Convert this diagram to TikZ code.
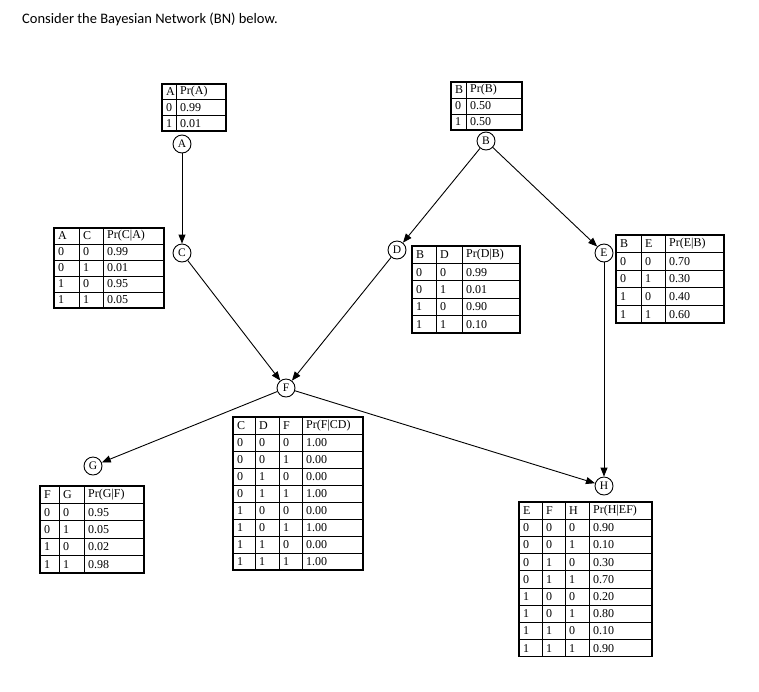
\documentclass[tikz,border=0pt]{standalone}
\usepackage{fontspec}
\setmainfont{Liberation Serif}
\newfontfamily\titlefont{Carlito}
\usetikzlibrary{arrows.meta}
\tikzset{
  cell/.style={anchor=west,inner sep=0pt,font=\fontsize{12}{13}\selectfont},
  var/.style={circle,draw,line width=0.9pt,minimum size=18pt,inner sep=0pt,font=\fontsize{11.5}{12}\selectfont},
  edge/.style={line width=0.9pt,-{Triangle[length=9pt,width=7pt]}},
  grid/.style={line width=0.9pt}
}
% #1 name #2 x #3 y #4 width #5 interior column offsets #6 row height #7 rows count #8 rows
\newcommand\cpt[8]{%
  \def\colsarr{{0,#5}}%
  \draw[grid,line width=1.3pt] (#2,#3) rectangle ++(#4,#7*#6);
  \foreach \i in {1,...,\numexpr#7-1\relax}{\draw[grid] (#2,#3+\i*#6) -- ++(#4,0);}
  \foreach \c in {#5}{\draw[grid] (#2+\c,#3) -- ++(0,#7*#6);}
  \foreach \row [count=\r] in {#8}{%
    \foreach \cell [count=\k] in \row {%
      \pgfmathsetmacro\cx{#2+\colsarr[\k-1]+4}%
      \pgfmathsetmacro\cy{#3+(\r-0.5)*#6}%
      \node[cell] (#1-\r-\k) at (\cx,\cy) {\cell};
    }%
  }%
}
\begin{document}
\begin{tikzpicture}[x=1pt,y=-1pt]
\useasboundingbox (0,0) rectangle (759,691);
\node[anchor=west,inner sep=0pt,font=\titlefont\fontsize{14.5}{16}\selectfont] (title) at (22,19) {Consider the Bayesian Network (BN) below.};

\cpt{ta}{162}{84}{64}{14}{15.7}{3}{{A,Pr(A)},{0,0.99},{1,0.01}}
\cpt{tb}{451}{82}{71}{15}{16}{3}{{B,Pr(B)},{0,0.50},{1,0.50}}
\cpt{tc}{54}{228}{110}{25,49}{16}{5}{{A,C,Pr(C|A)},{0,0,0.99},{0,1,0.01},{1,0,0.95},{1,1,0.05}}
\cpt{td}{412}{246}{108}{24,50}{17.4}{5}{{B,D,Pr(D|B)},{0,0,0.99},{0,1,0.01},{1,0,0.90},{1,1,0.10}}
\cpt{te}{616}{235}{108}{25,49}{17.6}{5}{{B,E,Pr(E|B)},{0,0,0.70},{0,1,0.30},{1,0,0.40},{1,1,0.60}}
\cpt{tg}{40}{486}{104}{19,44}{17.4}{5}{{F,G,Pr(G|F)},{0,0,0.95},{0,1,0.05},{1,0,0.02},{1,1,0.98}}
\cpt{tf}{233}{417}{130}{22,46,69}{17}{9}{{C,D,F,Pr(F|CD)},{0,0,0,1.00},{0,0,1,0.00},{0,1,0,0.00},{0,1,1,1.00},{1,0,0,0.00},{1,0,1,1.00},{1,1,0,0.00},{1,1,1,1.00}}
\cpt{th}{519}{502}{133}{23,46,70}{17.2}{9}{{E,F,H,Pr(H|EF)},{0,0,0,0.90},{0,0,1,0.10},{0,1,0,0.30},{0,1,1,0.70},{1,0,0,0.20},{1,0,1,0.80},{1,1,0,0.10},{1,1,1,0.90}}

\node[var] (A) at (182,144) {A};
\node[var] (B) at (486,141) {B};
\node[var] (C) at (182,253) {C};
\node[var] (D) at (397,250) {D};
\node[var] (E) at (604,253) {E};
\node[var] (F) at (286,388) {F};
\node[var] (G) at (93,466) {G};
\node[var] (H) at (604,486) {H};

\draw[edge] (A) -- (C);
\draw[edge] (B) -- (D);
\draw[edge] (B) -- (E);
\draw[edge] (C) -- (F);
\draw[edge] (D) -- (F);
\draw[edge] (F) -- (G);
\draw[edge] (F) -- (H);
\draw[edge] (E) -- (H);
\end{tikzpicture}
\end{document}
